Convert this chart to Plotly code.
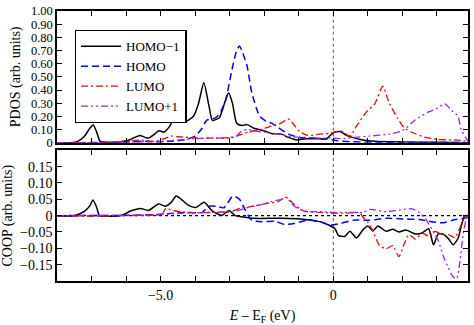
import plotly.graph_objects as go
from plotly.subplots import make_subplots

# ---------------- data ----------------
series_names = ["HOMO\u22121", "HOMO", "LUMO", "LUMO+1"]

# PDOS (top panel)
pdos_homo1_E = [-8.0, -7.6, -7.4, -7.2, -7.05, -6.95, -6.85, -6.75, -6.5, -6.2, -5.9, -5.75, -5.6, -5.45,
                -5.35, -5.2, -5.05, -4.9, -4.75, -4.55, -4.4, -4.25, -4.05, -3.9, -3.75, -3.6, -3.5, -3.3,
                -3.15, -3.03, -2.92, -2.8, -2.65, -2.5, -2.3, -2.0, -1.8, -1.5, -1.3, -1.05, -0.8, -0.5,
                -0.2, 0.0, 0.2, 0.35, 0.55, 0.85, 1.2, 2.0, 3.0, 3.9]
pdos_homo1_v = [0, 0, 0.01, 0.05, 0.11, 0.135, 0.08, 0.01, 0.003, 0.005, 0.02, 0.04, 0.055, 0.04,
                0.035, 0.06, 0.09, 0.08, 0.12, 0.205, 0.18, 0.165, 0.2, 0.3, 0.455, 0.28, 0.17, 0.19,
                0.3, 0.38, 0.3, 0.15, 0.13, 0.137, 0.11, 0.09, 0.07, 0.065, 0.04, 0.02, 0.03, 0.03,
                0.03, 0.075, 0.085, 0.06, 0.04, 0.02, 0.01, 0.005, 0.003, 0]

pdos_homo_E = [-8, -6, -5.5, -5.2, -4.8, -4.35, -4.0, -3.8, -3.67, -3.4, -3.25, -3.12, -2.93, -2.8, -2.72,
               -2.62, -2.5, -2.36, -2.13, -1.93, -1.8, -1.6, -1.3, -1.0, -0.6, -0.26, 0.1, 0.5, 1.0, 2.0,
               3.0, 3.9]
pdos_homo_v = [0, 0.003, 0.012, 0.005, 0.008, 0.02, 0.05, 0.11, 0.17, 0.19, 0.24, 0.32, 0.56, 0.70, 0.734,
               0.68, 0.586, 0.38, 0.2, 0.16, 0.15, 0.115, 0.065, 0.04, 0.035, 0.03, 0.015, 0.007, 0.003,
               0.002, 0.001, 0]

pdos_lumo_E = [-8, -6.5, -6.0, -5.6, -5.2, -4.9, -4.7, -4.5, -4.2, -3.8, -3.4, -3.0, -2.8, -2.46, -2.1,
               -1.8, -1.5, -1.3, -1.15, -1.0, -0.75, -0.4, -0.1, 0.2, 0.48, 0.67, 0.96, 1.2, 1.43, 1.62,
               1.86, 2.05, 2.29, 2.67, 3.04, 3.6, 3.9]
pdos_lumo_v = [0, 0.002, 0.01, 0.02, 0.01, 0.03, 0.05, 0.045, 0.04, 0.035, 0.035, 0.04, 0.05, 0.08, 0.1,
               0.125, 0.15, 0.18, 0.14, 0.09, 0.055, 0.065, 0.07, 0.09, 0.05, 0.125, 0.234, 0.295, 0.428,
               0.3, 0.186, 0.113, 0.077, 0.04, 0.024, 0.02, 0.008]

pdos_lumo1_E = [-8, -6, -5.0, -4.5, -4.0, -3.5, -3.0, -2.8, -2.65, -2.45, -2.2, -2.0, -1.8, -1.5, -1.2,
                -0.8, -0.4, 0.0, 0.3, 0.57, 1.05, 1.62, 2.0, 2.38, 2.76, 3.0, 3.23, 3.42, 3.61, 3.7, 3.85,
                3.9]
pdos_lumo1_v = [0, 0.002, 0.01, 0.02, 0.03, 0.035, 0.035, 0.05, 0.09, 0.1, 0.085, 0.08, 0.075, 0.06,
                0.045, 0.04, 0.035, 0.035, 0.03, 0.04, 0.05, 0.065, 0.09, 0.174, 0.234, 0.26, 0.295,
                0.246, 0.2, 0.1, 0.03, 0.01]

# COOP (bottom panel)
coop_homo1_E = [-8, -7.5, -7.2, -7.05, -6.96, -6.85, -6.77, -6.5, -6.1, -5.87, -5.58, -5.35, -5.06, -4.87,
                -4.7, -4.55, -4.4, -4.2, -3.98, -3.74, -3.5, -3.22, -3.02, -2.84, -2.6, -2.36, -1.5, -0.94,
                -0.37, -0.09, 0.05, 0.15, 0.34, 0.48, 0.67, 0.86, 1.0, 1.15, 1.29, 1.53, 1.72, 1.9, 2.1,
                2.38, 2.57, 2.76, 2.9, 3.04, 3.19, 3.33, 3.47, 3.61, 3.69, 3.8, 3.9]
coop_homo1_v = [0, 0, 0.014, 0.03, 0.048, 0.025, 0.0, -0.002, 0.002, 0.014, 0.022, 0.016, 0.036, 0.029,
                0.04, 0.06, 0.05, 0.032, 0.025, 0.041, 0.014, 0.001, 0.016, 0.0, -0.004, -0.008, -0.008,
                -0.01, -0.019, -0.031, -0.04, -0.061, -0.063, -0.048, -0.068, -0.043, -0.032, -0.046,
                -0.032, -0.048, -0.042, -0.05, -0.044, -0.056, -0.053, -0.04, -0.089, -0.056, -0.057,
                -0.07, -0.089, -0.07, -0.039, 0.0, 0.0]

coop_homo_E = [-8, -6, -5, -4.35, -3.8, -3.6, -3.4, -3.17, -2.93, -2.84, -2.7, -2.56, -2.36, -2.08, -1.7,
               -1.41, -1.13, -0.75, -0.37, -0.1, 0.2, 0.58, 1.05, 1.53, 2.0, 2.48, 2.76, 3.19, 3.52, 3.8,
               3.9]
coop_homo_v = [0, 0.001, 0.004, 0.01, 0.01, 0.029, 0.029, 0.024, 0.058, 0.058, 0.048, 0.019, -0.014,
               -0.019, -0.017, -0.027, -0.024, -0.014, -0.019, -0.029, -0.024, -0.014, -0.014, -0.008,
               -0.01, -0.012, -0.017, -0.022, -0.012, -0.008, -0.005]

coop_lumo_E = [-8, -7, -6, -5.2, -4.95, -4.85, -4.6, -4.35, -3.4, -2.93, -2.65, -2.27, -1.89, -1.6, -1.37,
               -1.13, -0.85, -0.46, -0.09, 0.4, 0.77, 0.86, 1.0, 1.15, 1.34, 1.53, 1.72, 1.9, 2.05, 2.19,
               2.38, 2.57, 2.76, 2.95, 3.14, 3.33, 3.52, 3.66, 3.8, 3.9]
coop_lumo_v = [0, -0.002, 0, 0.002, 0.005, 0.022, 0.015, 0.01, 0.01, 0.014, 0.024, 0.029, 0.038, 0.043,
               0.056, 0.034, 0.014, 0.01, 0.008, 0.008, 0.008, -0.005, -0.02, -0.048, -0.092, -0.101,
               -0.092, -0.125, -0.087, -0.058, -0.072, -0.053, -0.063, -0.048, -0.058, -0.058, -0.067,
               -0.039, -0.005, 0.0]

coop_lumo1_E = [-8, -6, -5, -4.35, -3.4, -2.9, -2.65, -2.36, -2.08, -1.8, -1.5, -1.37, -1.13, -0.85, -0.37,
                0.0, 0.5, 0.86, 1.05, 1.53, 1.9, 2.28, 2.48, 2.67, 2.86, 3.04, 3.19, 3.33, 3.47, 3.57,
                3.66, 3.76, 3.85, 3.9]
coop_lumo1_v = [0, 0.001, 0.003, 0.008, 0.01, 0.012, 0.019, 0.029, 0.034, 0.043, 0.05, 0.056, 0.029,
                0.014, 0.012, 0.01, 0.01, 0.01, 0.019, 0.012, 0.017, 0.021, 0.01, -0.01, -0.043, -0.077,
                -0.125, -0.159, -0.188, -0.193, -0.145, -0.058, -0.01, 0.0]

# tick labels
x_tickvals = [-8, -7, -6, -5, -4, -3, -2, -1, 0, 1, 2, 3]
x_ticktext = ["", "", "", "\u22125.0", "", "", "", "", "0", "", "", ""]
pdos_tickvals = [0, 0.1, 0.2, 0.3, 0.4, 0.5, 0.6, 0.7, 0.8, 0.9, 1.0]
pdos_ticktext = ["0", "0.10", "0.20", "0.30", "0.40", "0.50", "0.60", "0.70", "0.80", "0.90", "1.00"]
coop_tickvals = [-0.15, -0.10, -0.05, 0, 0.05, 0.10, 0.15]
coop_ticktext = ["\u22120.15", "\u22120.10", "\u22120.05", "0", "0.05", "0.10", "0.15"]

# ---------------- figure ----------------
colors = ["#000000", "#0000ff", "#ff0000", "#a020f0"]
dashes = ["solid", "7px,4px", "7px,3px,2px,3px", "7px,3px,2px,3px,2px,3px"]
widths = [1.5, 1.5, 1.3, 1.3]

top = [(pdos_homo1_E, pdos_homo1_v), (pdos_homo_E, pdos_homo_v),
       (pdos_lumo_E, pdos_lumo_v), (pdos_lumo1_E, pdos_lumo1_v)]
bot = [(coop_homo1_E, coop_homo1_v), (coop_homo_E, coop_homo_v),
       (coop_lumo_E, coop_lumo_v), (coop_lumo1_E, coop_lumo1_v)]

W, H = 474, 325
ml, mr, mt, mb = 52, 4, 6, 36
ph = H - mt - mb
top_dom = [(H - mb - 144) / ph, 1.0]
bot_dom = [0.0, (H - mb - 152) / ph]

fig = make_subplots(rows=2, cols=1, shared_xaxes=False)

for i in range(4):
    xe, yv = top[i]
    assert len(xe) == len(yv)
    fig.add_trace(go.Scatter(x=xe, y=yv, mode="lines", name=series_names[i],
                             line=dict(color=colors[i], dash=dashes[i], width=widths[i],
                                       shape="spline", smoothing=0.6),
                             showlegend=True), row=1, col=1)
for i in range(4):
    xe, yv = bot[i]
    assert len(xe) == len(yv)
    fig.add_trace(go.Scatter(x=xe, y=yv, mode="lines", name=series_names[i],
                             line=dict(color=colors[i], dash=dashes[i], width=widths[i],
                                       shape="spline", smoothing=0.6),
                             showlegend=False), row=2, col=1)

font_family = "Liberation Serif"
axis_common = dict(showline=True, linecolor="black", linewidth=1.5, mirror="ticks",
                   ticks="inside", ticklen=5, tickwidth=1, tickcolor="black",
                   showgrid=False, zeroline=False, ticklabeloverflow="allow")

fig.update_layout(
    width=W, height=H,
    margin=dict(l=ml, r=mr, t=mt, b=mb),
    paper_bgcolor="white", plot_bgcolor="white",
    font=dict(family=font_family, size=14, color="black"),
    xaxis=dict(domain=[0, 1], range=[-8, 3.9], anchor="y", tickvals=x_tickvals,
               showticklabels=False, **axis_common),
    yaxis=dict(domain=top_dom, range=[0, 1.0006], anchor="x", tickvals=pdos_tickvals,
               ticktext=pdos_ticktext,
               tickfont=dict(family=font_family, size=12.5, color="black"),
               title=dict(text="PDOS (arb. units)", font=dict(family=font_family, size=14), standoff=7),
               **axis_common),
    xaxis2=dict(domain=[0, 1], range=[-8, 3.9], anchor="y2", tickvals=x_tickvals,
                ticktext=x_ticktext,
                tickfont=dict(family=font_family, size=14, color="black"),
                title=dict(text="<i>E</i> \u2013 E<sub>F</sub> (eV)",
                           font=dict(family=font_family, size=14), standoff=9),
                **axis_common),
    yaxis2=dict(domain=bot_dom, range=[-0.2, 0.2], anchor="x2", tickvals=coop_tickvals,
                ticktext=coop_ticktext,
                tickfont=dict(family=font_family, size=14, color="black"),
                title=dict(text="COOP (arb. units)", font=dict(family=font_family, size=14), standoff=6),
                **axis_common),
    legend=dict(x=(70 - ml) / (W - ml - mr), y=1 - (26 - mt) / ph, xanchor="left", yanchor="top",
                bgcolor="white", bordercolor="black", borderwidth=1.3,
                font=dict(family=font_family, size=13, color="black"),
                tracegroupgap=0, itemwidth=40),
    shapes=[
        dict(type="line", xref="x", yref="y domain", x0=0, x1=0, y0=0, y1=1,
             line=dict(color="#555555", width=1, dash="dot"), layer="below"),
        dict(type="line", xref="x2", yref="y2 domain", x0=0, x1=0, y0=0, y1=1,
             line=dict(color="#555555", width=1, dash="dot"), layer="below"),
        dict(type="line", xref="x2 domain", yref="y2", x0=0, x1=1, y0=0, y1=0,
             line=dict(color="black", width=1.2, dash="dot"), layer="below"),
    ],
)

fig.write_html("out.html")
